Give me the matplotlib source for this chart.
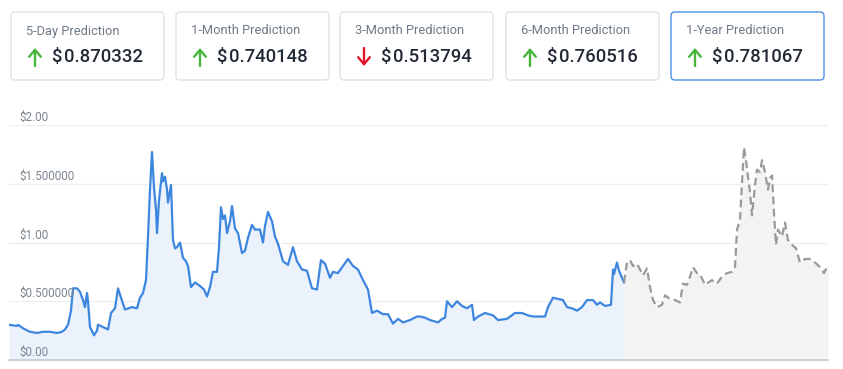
import numpy as np
import matplotlib
matplotlib.use("Agg")
import matplotlib.pyplot as plt
from matplotlib.patches import FancyBboxPatch

plt.rcParams['font.family'] = ['Roboto', 'DejaVu Sans']

# prediction cards
card_titles = ["5-Day Prediction", "1-Month Prediction", "3-Month Prediction",
               "6-Month Prediction", "1-Year Prediction"]
card_values = ["0.870332", "0.740148", "0.513794", "0.760516", "0.781067"]
card_up = [True, True, False, True, True]

# price history (time step, price in $)
hist_t = [0, 8, 9, 14, 21, 28, 34, 41, 48, 53,
          56, 59, 62, 64, 68, 71, 74, 76, 78, 79,
          81, 85, 88, 89, 94, 99, 102, 106, 109, 112,
          116, 123, 128, 131, 134, 137, 139, 141, 143, 145,
          147, 148, 150, 153, 154, 156, 158, 159, 162, 164,
          166, 168, 171, 174, 177, 179, 182, 186, 191, 195,
          198, 201, 204, 208, 210, 212, 214, 216, 218, 221,
          223, 226, 229, 233, 236, 239, 243, 246, 251, 254,
          256, 259, 263, 266, 269, 274, 279, 284, 288, 293,
          298, 303, 308, 312, 316, 321, 324, 329, 334, 339,
          344, 349, 354, 359, 363, 368, 374, 379, 384, 389,
          394, 401, 408, 411, 416, 421, 429, 433, 436, 438,
          443, 448, 453, 458, 463, 465, 469, 476, 484, 489,
          498, 506, 513, 519, 524, 531, 536, 539, 544, 549,
          554, 558, 563, 568, 573, 578, 584, 588, 591, 596,
          602, 604, 605, 608, 610, 613, 615]
hist_p = [0.30, 0.29, 0.30, 0.27, 0.24, 0.23, 0.24, 0.24, 0.23, 0.24,
          0.26, 0.30, 0.42, 0.61, 0.61, 0.58, 0.51, 0.45, 0.57, 0.50,
          0.28, 0.21, 0.25, 0.30, 0.28, 0.26, 0.40, 0.44, 0.61, 0.53,
          0.43, 0.45, 0.44, 0.53, 0.57, 0.68, 1.05, 1.45, 1.77, 1.47,
          1.28, 1.08, 1.36, 1.59, 1.52, 1.56, 1.45, 1.34, 1.49, 1.02,
          0.95, 0.96, 1.00, 0.87, 0.84, 0.80, 0.62, 0.66, 0.63, 0.60,
          0.54, 0.62, 0.75, 0.75, 0.96, 1.30, 1.20, 1.23, 1.08, 1.18,
          1.31, 1.12, 1.08, 0.91, 0.93, 1.04, 1.15, 1.11, 1.11, 1.00,
          1.14, 1.26, 1.18, 1.05, 0.99, 0.84, 0.81, 0.96, 0.84, 0.77,
          0.76, 0.61, 0.60, 0.85, 0.82, 0.70, 0.75, 0.74, 0.80, 0.86,
          0.80, 0.77, 0.68, 0.60, 0.40, 0.42, 0.39, 0.39, 0.31, 0.35,
          0.32, 0.34, 0.37, 0.37, 0.36, 0.34, 0.32, 0.35, 0.36, 0.50,
          0.45, 0.50, 0.46, 0.44, 0.47, 0.34, 0.37, 0.40, 0.38, 0.34,
          0.35, 0.40, 0.40, 0.38, 0.37, 0.37, 0.37, 0.45, 0.53, 0.52,
          0.51, 0.45, 0.44, 0.42, 0.45, 0.51, 0.51, 0.47, 0.49, 0.46,
          0.47, 0.77, 0.73, 0.83, 0.76, 0.70, 0.66]

# forecast (time step, price in $)
pred_t = [615, 618, 621, 624, 628, 631, 634, 638, 641, 644,
          648, 653, 656, 661, 666, 671, 674, 678, 681, 684,
          688, 691, 696, 703, 708, 713, 718, 723, 726, 728,
          731, 733, 735, 737, 739, 741, 743, 746, 748, 751,
          753, 756, 759, 761, 763, 765, 767, 769, 773, 776,
          779, 783, 787, 791, 796, 801, 806, 811, 815, 819]
pred_p = [0.66, 0.83, 0.85, 0.80, 0.82, 0.77, 0.72, 0.78, 0.62, 0.51,
          0.45, 0.47, 0.55, 0.52, 0.51, 0.49, 0.65, 0.64, 0.71, 0.79,
          0.74, 0.73, 0.64, 0.68, 0.65, 0.71, 0.74, 0.75, 0.79, 1.11,
          1.19, 1.51, 1.81, 1.70, 1.56, 1.43, 1.23, 1.49, 1.62, 1.60,
          1.70, 1.60, 1.45, 1.55, 1.57, 1.25, 0.98, 1.11, 1.05, 1.17,
          1.02, 0.98, 0.95, 0.83, 0.86, 0.86, 0.83, 0.79, 0.74, 0.81]

y_ticks = [0, 0.5, 1.0, 1.5, 2.0]
y_tick_labels = ["$0.00", "$0.500000", "$1.00", "$1.500000", "$2.00"]

W, H = 843, 369
fig = plt.figure(figsize=(W / 100, H / 100), dpi=100)

# chart area
ax = fig.add_axes([9 / W, 1 - 360 / H, (828 - 9) / W, (360 - 125) / H])
ax.fill_between(hist_t, hist_p, 0, color="#ebf2fc", lw=0)
ax.fill_between(pred_t, pred_p, 0, color="#f3f3f3", lw=0)
ax.plot(hist_t, hist_p, color="#3d86df", lw=1.6, solid_joinstyle="round")
ax.plot(pred_t, pred_p, color="#9a9a9a", lw=1.6, ls=(0, (3.5, 2)))
ax.set_xlim(hist_t[0], pred_t[-1])
ax.set_ylim(0, 2.0)
ax.set_yticks(y_ticks)
ax.yaxis.grid(True, color="#eeeeee", lw=0.9)
ax.set_axisbelow(True)
ax.tick_params(left=False, bottom=False, labelleft=False, labelbottom=False)
for s in ["top", "right", "left"]:
    ax.spines[s].set_visible(False)
ax.spines["bottom"].set_color("#c3cad4")
ax.spines["bottom"].set_linewidth(1.2)
for v, lab in zip(y_ticks, y_tick_labels):
    ax.annotate(lab, xy=(0, v), xycoords=("axes fraction", "data"),
                xytext=(7.3, 0.8), textcoords="offset points",
                fontsize=8.4, color="#7b8590", va="bottom", ha="left")

# cards overlay in pixel units
ov = fig.add_axes([0, 0, 1, 1])
ov.set_xlim(0, W)
ov.set_ylim(H, 0)
ov.axis("off")
card_x = [11, 176, 340, 506, 671]
arrow_style = "->,head_length=0.5,head_width=0.42"
for i, (title, val, up) in enumerate(zip(card_titles, card_values, card_up)):
    x0 = card_x[i]
    edge = "#4a90e2" if i == len(card_titles) - 1 else "#dfe2e7"
    ov.add_patch(FancyBboxPatch((x0, 12), 153, 68, boxstyle="round,pad=0,rounding_size=4",
                                fc="white", ec=edge, lw=1.0))
    ov.text(x0 + 15, 31, title, fontsize=9.3, color="#6f7a86", va="center", ha="left")
    col = "#47b53a" if up else "#e3172a"
    tip, tail = (48, 66) if up else (66, 48)
    ov.annotate("", xy=(x0 + 24, tip), xytext=(x0 + 24, tail),
                arrowprops=dict(arrowstyle=arrow_style, lw=1.7, color=col,
                                shrinkA=0, shrinkB=0))
    ov.text(x0 + 40, 57, "$", fontsize=13.3, color="#222a35", fontweight="medium",
            va="center", ha="left")
    ov.text(x0 + 53, 57, val, fontsize=13.3, color="#222a35", fontweight="medium",
            va="center", ha="left")

fig.savefig("out.png", dpi=100)
